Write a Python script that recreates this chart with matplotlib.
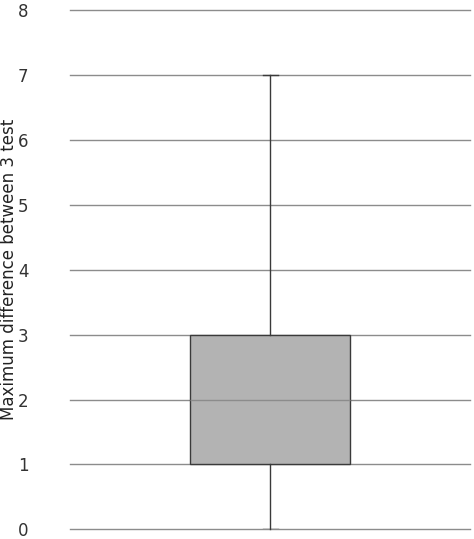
import matplotlib
matplotlib.use("Agg")
from matplotlib import pyplot as plt

# box plot summary
whisker_low = 0
q1 = 1
median = 2
q3 = 3
whisker_high = 7
ticks = [0, 1, 2, 3, 4, 5, 6, 7, 8]

fig = plt.figure(figsize=(4.74, 5.39), dpi=100)
ax = fig.add_axes([0.148, 0.018, 0.844, 0.963])

for t in ticks:
    ax.axhline(t, color="#8c8c8c", linewidth=1, zorder=0, clip_on=False)

stats = [{"whislo": whisker_low, "q1": q1, "med": median, "q3": q3,
          "whishi": whisker_high, "label": ""}]
ax.bxp(stats, positions=[0], widths=0.8, patch_artist=True, showfliers=False,
       boxprops=dict(facecolor="#b3b3b3", edgecolor="#3a3a3a", linewidth=1),
       medianprops=dict(color="#8c8c8c", linewidth=1),
       whiskerprops=dict(color="#3a3a3a", linewidth=1, clip_on=False),
       capprops=dict(color="#3a3a3a", linewidth=1), capwidths=0.075)

ax.set_xlim(-1, 1)
ax.set_ylim(0, 8)
ax.set_yticks(ticks)
ax.set_xticks([])
for s in ax.spines.values():
    s.set_visible(False)
ax.tick_params(axis="y", length=0, pad=30, labelsize=12, labelcolor="#333333")
ax.set_ylabel("Maximum difference between 3 test", fontsize=12, color="#222222",
              labelpad=2)
ax.yaxis.set_label_coords(-0.13, 0.5)

fig.savefig("out.png", dpi=100)
